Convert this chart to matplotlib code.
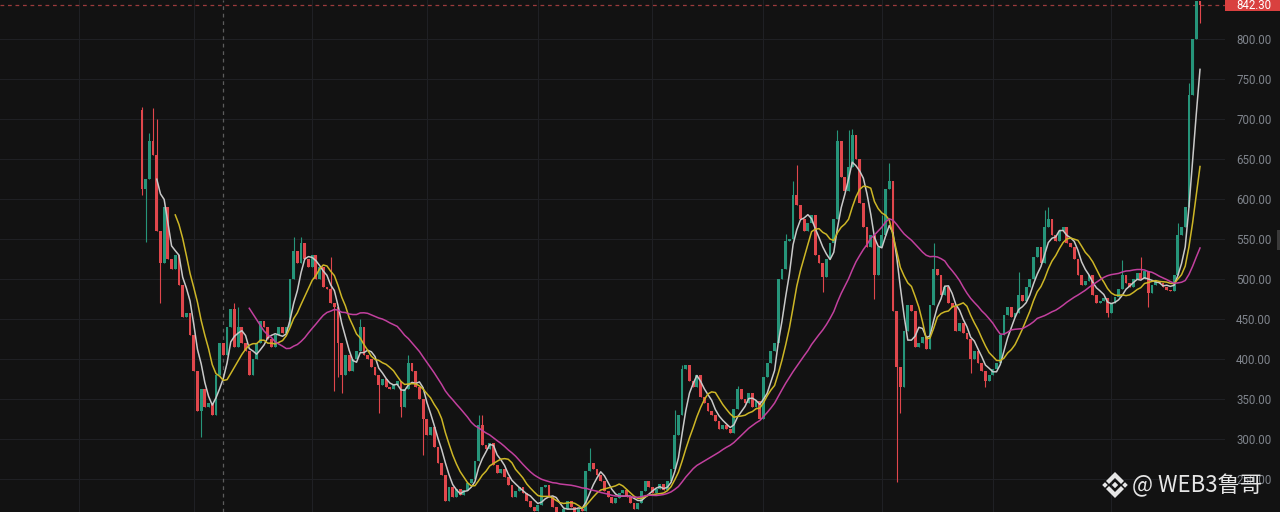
import matplotlib
matplotlib.use("Agg")
import matplotlib.pyplot as plt
import numpy as np
import pandas as pd
from matplotlib.patches import Polygon, Rectangle
from matplotlib.transforms import blended_transform_factory

# daily closes (open = previous close)
first_open = 711.0
closes = [
    612, 625, 672, 655, 560, 520, 590, 525, 512, 530,
    492, 452, 458, 430, 385, 335, 362, 340, 345, 330,
    380, 420, 405, 440, 462, 415, 440, 420, 410, 380,
    400, 420, 448, 440, 425, 415, 430, 440, 432, 440,
    500, 535, 520, 545, 525, 515, 530, 500, 515, 490,
    488, 470, 465, 420, 380, 405, 385, 400, 410, 440,
    405, 400, 390, 380, 368, 375, 365, 362, 368, 372,
    340, 362, 395, 385, 365, 350, 325, 305, 315, 290,
    270, 255, 222, 240, 228, 238, 230, 236, 245, 250,
    272, 318, 292, 288, 295, 268, 258, 262, 252, 242,
    228, 235, 240, 232, 222, 215, 210, 218, 240, 243,
    228, 215, 208, 205, 212, 222, 215, 208, 212, 210,
    260, 270, 262, 255, 248, 235, 228, 220, 226, 233,
    236, 228, 220, 212, 220, 235, 248, 240, 232, 238,
    244, 236, 248, 262, 305, 330, 388, 392, 372, 365,
    380, 352, 345, 335, 330, 322, 312, 318, 312, 308,
    338, 362, 350, 345, 358, 340, 348, 325, 378, 395,
    410, 420, 500, 512, 548, 550, 605, 592, 575, 560,
    570, 580, 530, 520, 502, 525, 545, 575, 672, 628,
    610, 640, 680, 650, 595, 565, 540, 555, 505, 540,
    555, 612, 622, 460, 390, 365, 435, 468, 460, 415,
    420, 428, 412, 468, 512, 505, 480, 490, 470, 465,
    435, 445, 432, 425, 400, 410, 395, 385, 372, 380,
    388, 395, 430, 455, 465, 452, 458, 480, 472, 490,
    500, 528, 540, 520, 565, 575, 555, 548, 560, 565,
    545, 540, 525, 505, 492, 498, 505, 480, 470, 472,
    476, 458, 470, 478, 488, 505, 495, 490, 500, 508,
    500, 510, 482, 492, 498, 495, 490, 486, 485, 505,
    555, 565, 590, 730, 800, 848, 842.3,
]

# the wicks that stand out
high_idx = [0, 2, 3, 4, 25, 26, 41, 43, 51, 59, 72, 91, 92, 121, 144, 146, 161, 174,
            176, 177, 188, 191, 192, 200, 202, 214, 237, 244, 245, 265, 270, 280, 282, 283]
high_val = [715, 682, 714, 700, 470, 465, 552, 553, 527, 450, 405, 330, 330, 289, 336, 393, 366, 556,
            623, 643, 686, 686, 688, 580, 645, 545, 509, 586, 590, 524, 528, 570, 582, 745]
low_idx = [0, 1, 5, 16, 52, 53, 54, 64, 70, 76, 184, 198, 204, 205, 224, 228,
           261, 272, 286]
low_val = [605, 546, 470, 302, 360, 377, 357, 332, 328, 280, 484, 475, 246, 333, 383, 365,
           452, 465, 820]

ma_windows = [5, 10, 30]
ma_colors = ["#c9c9c9", "#cdb626", "#c2409e"]

price_ticks = [250, 300, 350, 400, 450, 500, 550, 600, 650, 700, 750, 800]
last_price = 842.30
month_lines = [-17, 14, 46, 77, 107, 138, 168, 200, 230, 262]
crosshair_idx = 22

BG = "#121212"
GRID = "#1f2024"
UP = "#26957a"
DOWN = "#e0474c"

closes = np.array(closes, dtype=float)
opens = np.concatenate([[first_open], closes[:-1]])
idx = np.arange(len(closes))
highs = np.maximum(opens, closes)
lows = np.minimum(opens, closes)
highs[high_idx] = np.maximum(highs[high_idx], high_val)
lows[low_idx] = np.minimum(lows[low_idx], low_val)

fig = plt.figure(figsize=(12.8, 5.12), dpi=100, facecolor=BG)
ax = fig.add_axes([0, 0, 1225 / 1280, 1])
ax.set_facecolor(BG)

up = closes >= opens
colors = np.where(up, UP, DOWN)
ax.vlines(idx, lows, highs, colors=colors, linewidth=0.8, zorder=2)
body = np.maximum(np.abs(closes - opens), 1.2)
ax.bar(idx, body, bottom=np.minimum(opens, closes), width=0.76,
       color=colors, linewidth=0, zorder=3)

s = pd.Series(closes)
for w, c in zip(ma_windows, ma_colors):
    ax.plot(idx, s.rolling(w).mean(), color=c, linewidth=1.1, zorder=4)

ax.axhline(last_price, color="#9a3a3c", linewidth=0.9, linestyle=(0, (3, 3)), zorder=1)
ax.axvline(crosshair_idx, color="#5c5c5c", linewidth=0.9, linestyle=(0, (3, 3)), zorder=1)

ax.set_xlim(-142 / 3.7, len(closes) - 1 + 25 / 3.7)
ax.set_ylim(848.75 - 512 * 1.25, 848.75)

ax.set_yticks(price_ticks)
ax.set_yticklabels([f"{p:.2f}" for p in price_ticks])
ax.yaxis.tick_right()
ax.tick_params(axis="y", length=0, pad=8, labelcolor="#7f848c", labelsize=8.3)
ax.set_xticks(month_lines)
ax.set_xticklabels([])
ax.tick_params(axis="x", length=0)
ax.grid(True, color=GRID, linewidth=0.8)
ax.set_axisbelow(True)
for sp in ax.spines.values():
    sp.set_visible(False)
for lab in ax.get_yticklabels():
    lab.set_family(["Roboto", "DejaVu Sans"])

# last price tag on the axis
tr = blended_transform_factory(ax.transAxes, ax.transData)
ax.add_patch(Rectangle((1.0, last_price - 7.5), 55 / 1225, 15, transform=tr,
                       facecolor="#d9403f", edgecolor="none", clip_on=False, zorder=6))
ax.text(1236 / 1225, last_price, f"{last_price:.2f}", transform=tr, color="white",
        fontsize=8.3, va="center", ha="left", family=["Roboto", "DejaVu Sans"],
        clip_on=False, zorder=7)

# overlay in pixel coords for the watermark
ov = fig.add_axes([0, 0, 1, 1], facecolor="none")
ov.set_xlim(0, 1280)
ov.set_ylim(512, 0)
ov.axis("off")
ov.add_patch(Rectangle((1277, 230), 3, 20, facecolor="#3a3a3a", edgecolor="none"))

wm = "#e6e6e6"
cx, cy = 1115, 485
ov.add_patch(Polygon([(cx, cy - 13), (cx + 9, cy - 4), (cx + 6, cy - 1), (cx, cy - 7),
                      (cx - 6, cy - 1), (cx - 9, cy - 4)], closed=True, fc=wm, ec="none"))
ov.add_patch(Polygon([(cx, cy + 13), (cx + 9, cy + 4), (cx + 6, cy + 1), (cx, cy + 7),
                      (cx - 6, cy + 1), (cx - 9, cy + 4)], closed=True, fc=wm, ec="none"))
for dx, r in [(0, 3.2), (-10, 2.8), (10, 2.8)]:
    ov.add_patch(Polygon([(cx + dx, cy - r), (cx + dx + r, cy), (cx + dx, cy + r),
                          (cx + dx - r, cy)], closed=True, fc=wm, ec="none"))
ov.text(1132, 486, "@ WEB3鲁哥", color=wm, fontsize=16, va="center", ha="left",
        family=["Noto Sans CJK SC", "DejaVu Sans"])

fig.savefig("out.png", dpi=100, facecolor=BG)
